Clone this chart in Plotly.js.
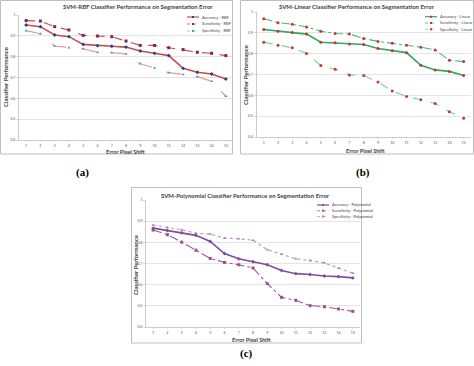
<!DOCTYPE html>
<html>
<head>
<meta charset="utf-8">
<script src="https://cdn.plot.ly/plotly-3.0.1.min.js"></script>
<style>html,body{margin:0;padding:0;background:#fff;}#chart{width:474px;height:366px;}</style>
</head>
<body>
<div id="chart"></div>
<script>
// ---- data ----
const errorPixelShift = [1,2,3,4,5,6,7,8,9,10,11,12,13,14,15];
const yTicks = [0.4,0.5,0.6,0.7,0.8,0.9,1];
const yTickLabels = ['0.4','0.5','0.6','0.7','0.8','0.9','1'];

const rbfAccuracy    = [0.952,0.944,0.904,0.896,0.859,0.853,0.850,0.846,0.827,0.816,0.805,0.744,0.725,0.717,0.693];
const rbfSensitivity = [0.973,0.971,0.944,0.928,0.902,0.899,0.896,0.875,0.854,0.854,0.843,0.834,0.821,0.816,0.805];
const rbfSpecificity = [0.925,0.910,0.851,0.843,0.838,0.821,0.819,0.813,0.766,0.746,0.723,0.715,0.704,0.682,0.610];

const linAccuracy    = [0.916,0.908,0.902,0.894,0.855,0.852,0.847,0.844,0.825,0.814,0.805,0.744,0.722,0.715,0.695];
const linSensitivity = [0.968,0.949,0.941,0.928,0.908,0.897,0.894,0.873,0.859,0.850,0.841,0.831,0.818,0.768,0.762];
const linSpecificity = [0.855,0.841,0.828,0.801,0.743,0.725,0.698,0.695,0.664,0.621,0.595,0.579,0.561,0.521,0.490];

const polyAccuracy    = [0.867,0.856,0.845,0.833,0.804,0.747,0.722,0.708,0.694,0.667,0.652,0.648,0.641,0.638,0.632];
const polySensitivity = [0.858,0.836,0.801,0.763,0.724,0.705,0.694,0.679,0.605,0.540,0.526,0.501,0.496,0.485,0.474];
const polySpecificity = [0.882,0.870,0.859,0.843,0.839,0.820,0.817,0.810,0.765,0.744,0.722,0.714,0.703,0.678,0.654];

const panelTitles = ['SVM-RBF Classifier Performance on Segmentation Error',
                     'SVM-Linear Classifier Performance on Segmentation Error',
                     'SVM-Polynomial Classifier Performance on Segmentation Error'];
const panelLabels = ['(a)','(b)','(c)'];
const xTitle = 'Error Pixel Shift';
const yTitle = 'Classifier Performance';
const seriesNames = [
  ['Accuracy - RBF','Sensitivity - RBF','Specificity - RBF'],
  ['Accuracy - Linear','Sensitivity - Linear','Specificity - Linear'],
  ['Accuracy - Polynomial','Sensitivity - Polynomial','Specificity - Polynomial']
];
const seriesValues = [
  [rbfAccuracy, rbfSensitivity, rbfSpecificity],
  [linAccuracy, linSensitivity, linSpecificity],
  [polyAccuracy, polySensitivity, polySpecificity]
];

// ---- styles ----
const styles = [
  [ {c:'#C0504D', w:1.6, d:'solid',    m:'#1F497D', s:'diamond'},
    {c:'#C84B55', w:1.1, d:'dash',     m:'#8B2252', s:'square'},
    {c:'#E99A86', w:1.2, d:'longdash', m:'#4BA3B0', s:'triangle-up'} ],
  [ {c:'#2FA866', w:1.6, d:'solid',    m:'#C0392B', s:'circle'},
    {c:'#45B97A', w:1.1, d:'dashdot',  m:'#C0392B', s:'circle'},
    {c:'#7FD59C', w:1.2, d:'dash',     m:'#C0392B', s:'circle'} ],
  [ {c:'#7B4F9D', w:1.6, d:'solid',    m:'#7B4F9D', s:'diamond'},
    {c:'#9B5AA6', w:1.1, d:'dashdot',  m:'#A0507F', s:'square'},
    {c:'#BF93C9', w:1.2, d:'dot',      m:'#B07CC0', s:'triangle-up'} ]
];

const W = 474, H = 366;
const px = x => x / W;
const py = y => 1 - y / H;

// panel geometry in pixels
const panels = [
  {box:[0,0,233,154],     plot:[19,15,233,140],      title:[138,6],   lab:[82,172],  xt:[125,151], yt:[5,77],    leg:[187,17,7]},
  {box:[240,0,474,154],   plot:[256.6,12,470.8,137], title:[357,6],   lab:[363,172], xt:[365,150], yt:[245,75],  leg:[425,16.7,6.3]},
  {box:[131,187,362,343], plot:[146,200,360,327],    title:[245,195], lab:[246,353], xt:[252,339], yt:[135,265], leg:[317,205,5.8]}
];

const traces = [];
const layout = {
  width: W, height: H,
  margin: {l:0, r:0, t:0, b:0},
  paper_bgcolor: '#ffffff',
  plot_bgcolor: '#ffffff',
  showlegend: false,
  shapes: [],
  annotations: []
};

const tickFont = {family:'Lato, "Open Sans", sans-serif', size:3.6, color:'#595959'};
const boldFont = (sz) => ({family:'Lato, "Open Sans", sans-serif', size:sz, color:'#404040', weight:'bold'});

panels.forEach((p, i) => {
  const n = i === 0 ? '' : String(i + 1);
  const xa = 'xaxis' + n, ya = 'yaxis' + n;
  layout[xa] = {
    domain: [px(p.plot[0]), px(p.plot[2])],
    anchor: 'y' + n,
    range: [0.5, 15.5],
    tickmode: 'array', tickvals: errorPixelShift, ticktext: errorPixelShift.map(String),
    showgrid: false, zeroline: false,
    showline: true, linecolor: '#BFBFBF', linewidth: 0.8,
    ticks: 'outside', ticklen: 1.5, tickcolor: '#BFBFBF', tickwidth: 0.6,
    tickfont: tickFont, fixedrange: true
  };
  layout[ya] = {
    domain: [py(p.plot[3]), py(p.plot[1])],
    anchor: 'x' + n,
    range: [0.4, 1.0],
    tickmode: 'array', tickvals: yTicks, ticktext: yTickLabels,
    showgrid: true, gridcolor: '#D9D9D9', gridwidth: 0.7,
    zeroline: false, showline: true, linecolor: '#BFBFBF', linewidth: 0.8,
    ticks: 'outside', ticklen: 2, tickcolor: '#BFBFBF', tickwidth: 0.6,
    tickfont: tickFont, fixedrange: true
  };
  // series
  seriesValues[i].forEach((vals, k) => {
    const st = styles[i][k];
    traces.push({
      type: 'scatter', mode: 'lines+markers',
      x: errorPixelShift, y: vals, name: seriesNames[i][k],
      xaxis: 'x' + n, yaxis: 'y' + n,
      line: {color: st.c, width: st.w, dash: st.d},
      marker: {color: st.m, size: 3, symbol: st.s},
      hoverinfo: 'skip'
    });
  });
  // chart border
  layout.shapes.push({type:'rect', xref:'paper', yref:'paper',
    x0: px(p.box[0] + 0.5), x1: px(p.box[2] - 0.5), y0: py(p.box[3]), y1: py(p.box[1] + 0.5),
    line: {color:'#BFBFBF', width:1}, fillcolor:'rgba(0,0,0,0)', layer:'below'});
  // titles
  layout.annotations.push({xref:'paper', yref:'paper', x: px(p.title[0]), y: py(p.title[1]),
    text: panelTitles[i], showarrow:false, font: boldFont(6), xanchor:'center', yanchor:'middle'});
  layout.annotations.push({xref:'paper', yref:'paper', x: px(p.xt[0]), y: py(p.xt[1]),
    text: xTitle, showarrow:false, font: boldFont(5.6), xanchor:'center', yanchor:'middle'});
  layout.annotations.push({xref:'paper', yref:'paper', x: px(p.yt[0]), y: py(p.yt[1]),
    text: yTitle, showarrow:false, font: boldFont(6), textangle:-90, xanchor:'center', yanchor:'middle'});
  layout.annotations.push({xref:'paper', yref:'paper', x: px(p.lab[0]), y: py(p.lab[1]),
    text: panelLabels[i], showarrow:false,
    font: {family:'"Liberation Serif", "DejaVu Serif", serif', size:11, color:'#000', weight:'bold'},
    xanchor:'center', yanchor:'middle'});
  // legend (manual, compact)
  seriesNames[i].forEach((name, k) => {
    const st = styles[i][k];
    const lx = p.leg[0], ly = p.leg[1] + k * p.leg[2];
    layout.shapes.push({type:'line', xref:'paper', yref:'paper',
      x0: px(lx), x1: px(lx + 12), y0: py(ly), y1: py(ly),
      line: {color: st.c, width: Math.max(0.8, st.w - 0.4), dash: st.d === 'solid' ? 'solid' : 'dot'}});
    layout.shapes.push({type:'rect', xref:'paper', yref:'paper',
      x0: px(lx + 5), x1: px(lx + 7), y0: py(ly + 1), y1: py(ly - 1),
      line: {width:0}, fillcolor: st.m});
    layout.annotations.push({xref:'paper', yref:'paper', x: px(lx + 13), y: py(ly),
      text: name, showarrow:false, xanchor:'left', yanchor:'middle',
      font: {family:'Lato, "Open Sans", sans-serif', size:4, color:'#404040'}});
  });
});

Plotly.newPlot('chart', traces, layout, {staticPlot:true, displayModeBar:false});
</script>
</body>
</html>
